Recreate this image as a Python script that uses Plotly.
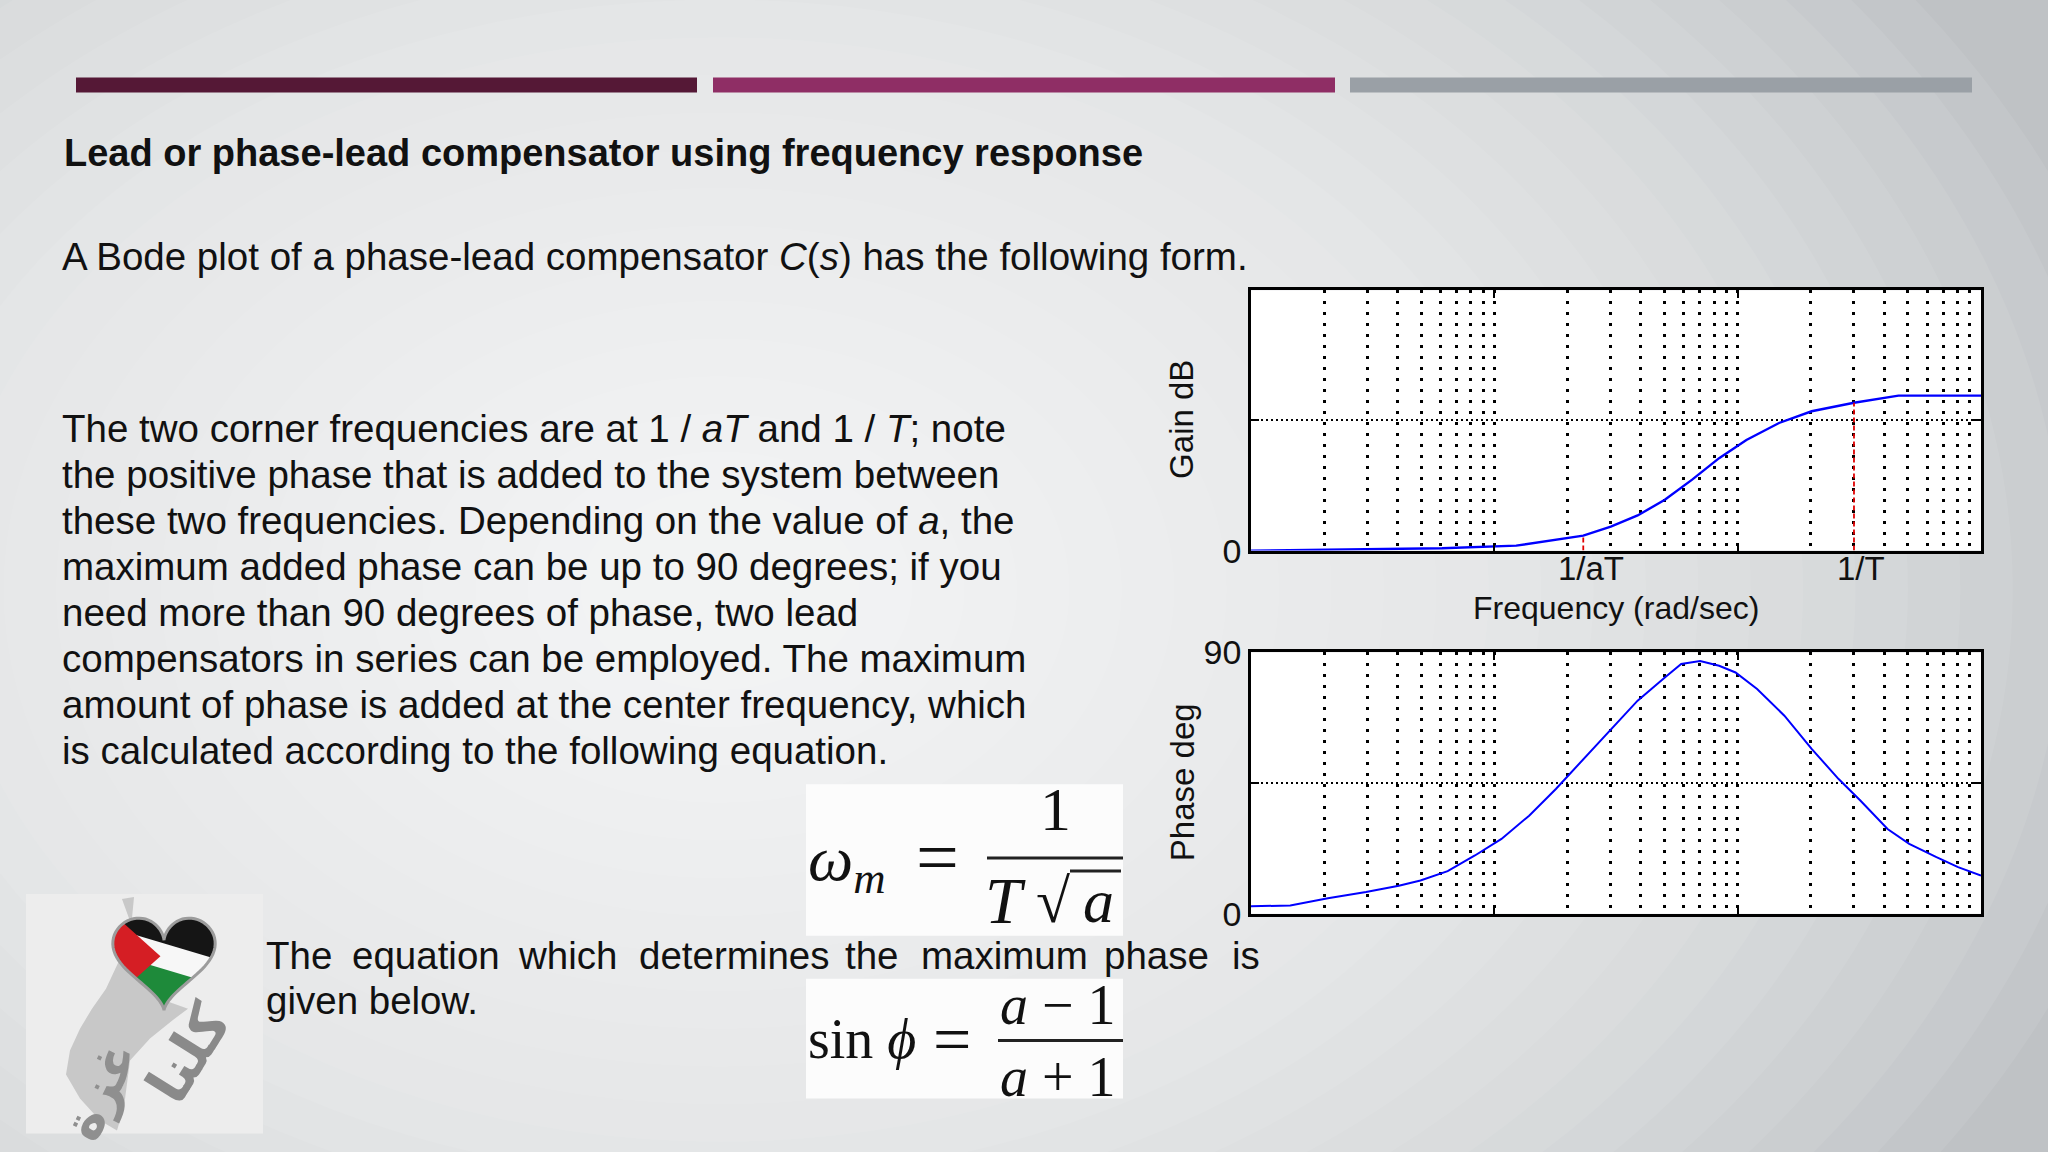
import numpy as np
import plotly.graph_objects as go

W, H = 2048, 1152

# ---- data ----
gain_freq = [1, 6.1, 12.3, 19.9, 23.2, 30.1, 38.8, 50.2, 65.0, 83.9, 108.6, 147.9, 201.4, 300.6, 458, 1000]
gain_db = [0, 0.36, 0.76, 1.9, 2.3, 3.7, 5.4, 7.8, 10.9, 14.2, 17.0, 19.6, 21.4, 22.7, 23.8, 23.8]

phase_freq = [1, 1.45, 2.07, 2.97, 4.05, 4.97, 6.43, 8.32, 10.7, 13.9, 17.9, 23.2, 30.1, 38.8, 50.2, 58.6,
              70.1, 83.9, 98.0, 120.2, 155.6, 201.4, 260.0, 319.2, 413.0, 507.0, 656.0, 805.0, 1000]
phase_deg = [2.6, 2.9, 5.4, 7.5, 9.7, 11.5, 14.7, 20.1, 25.8, 33.8, 43.0, 53.3, 63.6, 73.4, 81.4, 86.0,
             87.0, 85.4, 83.1, 77.4, 68.2, 56.8, 46.4, 39.0, 29.2, 24.1, 19.5, 16.1, 13.2]

corner_freq = [23.2, 300.6]
corner_gain = [2.3, 22.7]
corner_labels = ["1/aT", "1/T"]

grid_freq = [2, 3, 4, 5, 6, 7, 8, 9, 10, 20, 30, 40, 50, 60, 70, 80, 90,
             100, 200, 300, 400, 500, 600, 700, 800, 900]
decades = [10, 100]

title = "<b>Lead or phase-lead compensator using frequency response</b>"
intro = "A Bode plot of a phase-lead compensator <i>C</i>(<i>s</i>) has the following form."
para = [
    "The two corner frequencies are at 1 / <i>aT</i> and 1 / <i>T</i>; note",
    "the positive phase that is added to the system between",
    "these two frequencies. Depending on the value of <i>a</i>, the",
    "maximum added phase can be up to 90 degrees; if you",
    "need more than 90 degrees of phase, two lead",
    "compensators in series can be employed. The maximum",
    "amount of phase is added at the center frequency, which",
    "is calculated according to the following equation.",
]
eq_words = ["The", "equation", "which", "determines", "the", "maximum", "phase", "is"]
eq_word_x = [264, 350, 516, 637, 843, 919, 1102, 1230]

# the page comes out slightly squeezed vertically, so spread positions about the middle
C, K = 590, 0.969


def px(x):
    return x / W


def py(y):
    return 1 - (C + (y - C) / K) / H


SANS = "Liberation Sans, Arial, sans-serif"
NARROW = "Liberation Sans Narrow, Arial Narrow, Liberation Sans, sans-serif"
SERIF = "Liberation Serif, Times New Roman, serif"

fig = go.Figure()

fig.add_trace(go.Scatter(x=gain_freq, y=gain_db, mode="lines", xaxis="x", yaxis="y",
                         line=dict(color="#0000ff", width=2.4), hoverinfo="skip"))
for f, g in zip(corner_freq, corner_gain):
    fig.add_trace(go.Scatter(x=[f, f], y=[0, g], mode="lines", xaxis="x", yaxis="y",
                             line=dict(color="#e00000", width=1.8, dash="5px,3px"), hoverinfo="skip"))
fig.add_trace(go.Scatter(x=phase_freq, y=phase_deg, mode="lines", xaxis="x2", yaxis="y2",
                         line=dict(color="#0000ff", width=2), hoverinfo="skip"))

xdom = [px(1251), px(1981)]
common_x = dict(type="log", range=[0, 3], showline=True, mirror="ticks", linecolor="black", linewidth=2.5,
                showgrid=False, zeroline=False, showticklabels=False,
                tickmode="array", tickvals=decades, ticks="inside", ticklen=8, tickwidth=2, tickcolor="black",
                minor=dict(tickmode="array", tickvals=grid_freq, showgrid=True, gridcolor="black",
                           griddash="3px,8px", gridwidth=2.5, ticks=""))
common_y = dict(showline=True, mirror="ticks", linecolor="black", linewidth=2.5, zeroline=False,
                showgrid=False, ticks="", tickmode="array",
                ticklabelstandoff=0, tickfont=dict(family=NARROW, size=34, color="#111"))
ygrid = dict(tickmode="array", showgrid=True, gridcolor="black", griddash="2px,3px", gridwidth=2,
             ticks="inside", ticklen=8, tickwidth=2, tickcolor="black")

fig.update_layout(
    width=W, height=H, margin=dict(l=0, r=0, t=0, b=0),
    paper_bgcolor="#bfc2c5", plot_bgcolor="white", showlegend=False,
    xaxis=dict(domain=xdom, anchor="y", **common_x),
    yaxis=dict(domain=[py(551), py(290)], anchor="x", range=[0, 40], tickvals=[0], ticktext=["0"],
               minor=dict(tickvals=[20], **ygrid), **common_y),
    xaxis2=dict(domain=xdom, anchor="y2", **common_x),
    yaxis2=dict(domain=[py(915), py(653)], anchor="x2", range=[0, 90], tickvals=[0, 90],
                ticktext=["0", "90"], minor=dict(tickvals=[45], **ygrid), **common_y),
)

shapes = []
# soft radial light in the slide background
for i, rx in enumerate(np.linspace(1450, 140, 26)):
    shapes.append(dict(type="circle", xref="paper", yref="paper", layer="below",
                       x0=px(720 - rx), x1=px(720 + rx), y0=py(590 + rx * 0.72), y1=py(590 - rx * 0.72),
                       fillcolor="white", opacity=0.075, line=dict(width=0)))
# header bars
for x0, x1, c in [(76, 697, "#551836"), (713, 1335, "#8f2e65"), (1350, 1972, "#9aa0a6")]:
    shapes.append(dict(type="rect", xref="paper", yref="paper", layer="above",
                       x0=px(x0), x1=px(x1), y0=py(92), y1=py(77), fillcolor=c, line=dict(width=0)))
# equation panels
for y0, y1 in [(785, 937), (980, 1100)]:
    shapes.append(dict(type="rect", xref="paper", yref="paper", layer="above",
                       x0=px(806), x1=px(1123), y0=py(y1), y1=py(y0), fillcolor="#fcfcfc", line=dict(width=0)))
# fraction bars and sqrt overline
for x0, x1, y in [(987, 1123, 859), (1070, 1121, 872), (998, 1123, 1042)]:
    shapes.append(dict(type="line", xref="paper", yref="paper", layer="above",
                       x0=px(x0), x1=px(x1), y0=py(y), y1=py(y), line=dict(color="#222", width=3)))
# logo panel
shapes.append(dict(type="rect", xref="paper", yref="paper", layer="above",
                   x0=px(26), x1=px(263), y0=py(1135), y1=py(895), fillcolor="#ededed", line=dict(width=0)))

map_pts = [(122, 900), (134, 898), (131, 930), (120, 960), (106, 990), (92, 1010), (80, 1030), (70, 1052),
           (66, 1076), (80, 1100), (100, 1122), (117, 1132), (124, 1108), (130, 1062), (150, 1040),
           (172, 1022), (188, 1010), (160, 1000), (146, 980), (140, 950)]


def to_path(pts):
    return "M " + " L ".join(f"{px(x):.5f},{py(y):.5f}" for x, y in pts) + " Z"


shapes.append(dict(type="path", xref="paper", yref="paper", layer="above", path=to_path(map_pts),
                   fillcolor="#a9a9a9", opacity=0.55, line=dict(width=0)))

# heart with the flag
t = np.linspace(0, 2 * np.pi, 120)
hx = 16 * np.sin(t) ** 3
hy = 13 * np.cos(t) - 5 * np.cos(2 * t) - 2 * np.cos(3 * t) - np.cos(4 * t)
heart = list(zip(hx, hy))


def clip(poly, a, b, c):
    out = []
    n = len(poly)
    for i in range(n):
        p, q = poly[i], poly[(i + 1) % n]
        fp, fq = a * p[0] + b * p[1] + c, a * q[0] + b * q[1] + c
        if fp >= 0:
            out.append(p)
        if (fp >= 0) != (fq >= 0):
            k = fp / (fp - fq)
            out.append((p[0] + k * (q[0] - p[0]), p[1] + k * (q[1] - p[1])))
    return out


def heart_px(poly):
    return [(164 + x * 3.2, 920 + (11.7 - y) * 3.2) for x, y in poly]


white_part = clip(heart, -0.3, -1, 4)
green_part = clip(heart, -0.3, -1, -4)
red_part = clip(clip(heart, -0.9, -1, -1), -0.9, 1, -1)
for poly, col in [(heart, "#151515"), (white_part, "#f7f7f7"), (green_part, "#1e8a3a"), (red_part, "#d51e24")]:
    shapes.append(dict(type="path", xref="paper", yref="paper", layer="above", path=to_path(heart_px(poly)),
                       fillcolor=col, line=dict(width=0)))
shapes.append(dict(type="path", xref="paper", yref="paper", layer="above", path=to_path(heart_px(heart)),
                   fillcolor="rgba(0,0,0,0)", line=dict(color="#9c9c9c", width=3)))

ann = []


def text(x, y, s, size, family=SANS, xanchor="left", angle=0, color="#111"):
    ann.append(dict(x=px(x), y=py(y), xref="paper", yref="paper", text=s, showarrow=False,
                    xanchor=xanchor, yanchor="middle", textangle=angle,
                    font=dict(family=family, size=size, color=color)))


text(62, 153, title, 38)
text(60, 256, intro, 38.5)
for i, line in enumerate(para):
    text(60, 429 + i * 46.1, line, 38.5)
for wd, x in zip(eq_words, eq_word_x):
    text(x, 957, wd, 38.5)
text(264, 1002, "given below.", 38.5)

# plot labels
text(1182, 420, "Gain dB", 33, xanchor="center", angle=-90)
text(1182, 783, "Phase deg", 33, xanchor="center", angle=-90)
text(1616, 608, "Frequency (rad/sec)", 32, family=NARROW, xanchor="center")
for f, lab in zip(corner_freq, corner_labels):
    ann.append(dict(x=np.log10(f) + 0.03, y=py(569), xref="x", yref="paper", text=lab, showarrow=False,
                    xanchor="center", yanchor="middle", font=dict(family=NARROW, size=33, color="#111")))

# equations
text(806, 864, "<i>ω</i><sub><i>m</i></sub>", 64, family=SERIF)
text(937, 858, "=", 76, family=SERIF, xanchor="center")
text(1055, 810, "1", 62, family=SERIF, xanchor="center")
text(1005, 902, "<i>T</i>", 66, family=SERIF, xanchor="center")
text(1053, 902, "√", 62, family=SERIF, xanchor="center")
text(1098, 902, "<i>a</i>", 62, family=SERIF, xanchor="center")
text(806, 1040, "sin <i>ϕ</i>", 56, family=SERIF)
text(952, 1040, "=", 68, family=SERIF, xanchor="center")
text(1058, 1006, "<i>a</i> − 1", 56, family=SERIF, xanchor="center")
text(1058, 1078, "<i>a</i> + 1", 56, family=SERIF, xanchor="center")

# logo calligraphy
text(188, 1055, "<b>كلنا</b>", 58, family="DejaVu Sans", xanchor="center", angle=-58, color="#8a8a8a")
text(100, 1092, "<b>غزة</b>", 54, family="DejaVu Sans", xanchor="center", angle=-64, color="#8f8f8f")

fig.update_layout(shapes=shapes, annotations=ann)
fig.write_html("out.html", config={"displayModeBar": False},
               post_script="document.body.style.margin='0';document.body.style.overflow='hidden';")
